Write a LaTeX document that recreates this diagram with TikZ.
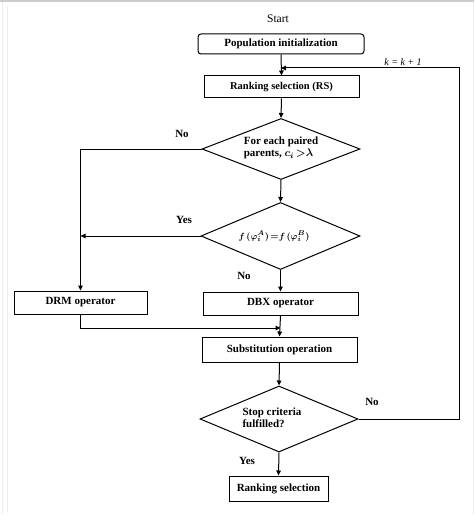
\documentclass[tikz,border=0pt]{standalone}
\usepackage{amsmath,bm}
\usepackage{fontspec}
\setmainfont{Liberation Serif}
\usetikzlibrary{shapes.geometric,arrows.meta}
\begin{document}
\begin{tikzpicture}[x=1pt,y=-1pt,
  every node/.style={font=\fontsize{11}{12.5}\selectfont\bfseries, inner sep=0pt},
  procbox/.style={draw, line width=1pt, rectangle},
  decbox/.style={draw, line width=1pt, diamond, aspect=2.5},
  lbl/.style={font=\fontsize{11}{12.5}\selectfont\bfseries},
  conn/.style={line width=1pt, -{Triangle[length=5pt,width=4.5pt]}}]
\useasboundingbox (0,0) rectangle (474,516);
\fill[gray!40] (0,0) rectangle (474,2);
\draw[gray!15, line width=0.8pt] (2,2) -- (2,514) (7,6) -- (7,512) (473,2) -- (473,514);
% nodes
\node[font=\fontsize{11.5}{13}\selectfont] (start) at (278,19) {Start};
\node[procbox, rounded corners=3pt, minimum width=166pt, minimum height=20pt] (pop) at (281,44) {Population initialization};
\node[procbox, minimum width=155pt, minimum height=22pt, font=\fontsize{10.5}{12}\selectfont\bfseries] (rank) at (281.5,87) {Ranking selection (RS)};
\node[decbox, minimum width=158pt, minimum height=61pt] (d1) at (281,149) {};
\node[align=left, font=\fontsize{11}{12.5}\selectfont\bfseries] (d1t) at (281,148) {For each paired\\parents, $\bm{c_i\,{>}\lambda}$};
\node[decbox, minimum width=159pt, minimum height=67pt] (d2) at (280.5,236) {};
\node[font=\fontsize{9.5}{11}\selectfont\bfseries] (d2t) at (274,236) {$\bm{f\,(\varphi_i^{A})\,{=}f\,(\varphi_i^{B})}$};
\node[procbox, minimum width=133pt, minimum height=23pt] (drm) at (80.5,302.5) {DRM operator};
\node[procbox, minimum width=155pt, minimum height=23pt] (dbx) at (280.5,303.5) {DBX operator};
\node[procbox, minimum width=155pt, minimum height=25pt] (sub) at (279.5,349.5) {Substitution operation};
\node[decbox, minimum width=158pt, minimum height=66pt] (d3) at (279,419) {};
\node[align=left] (d3t) at (272,418) {Stop criteria\\fulfilled?};
\node[procbox, minimum width=99pt, minimum height=25pt] (rs2) at (278.5,488.5) {Ranking selection};
% labels
\node[lbl] (l1) at (182,134) {No};
\node[lbl] (l2) at (184,220) {Yes};
\node[lbl] (l3) at (244,276) {No};
\node[lbl] (l4) at (372,402) {No};
\node[lbl] (l5) at (247,461) {Yes};
\node[font=\fontsize{10}{11}\selectfont\itshape] (kk) at (403,62) {k = k + 1};
% coordinates
\coordinate (loopin) at (281,68);
\coordinate (loopc1) at (459,419);
\coordinate (loopc2) at (459,68);
\coordinate (join) at (280.5,328);
% connectors
\draw[conn] (pop.south) -- (rank.north);
\draw[conn] (rank.south) -- (d1.north);
\draw[conn] (d1.west) -| (drm.north);
\draw[conn] (d1.south) -- (d2.north);
\draw[conn] (d2.west) -- (d2.west -| drm.north);
\draw[conn] (d2.south) -- (dbx.north);
\draw[conn] (dbx.south) -- (sub.north);
\draw[conn] (drm.south) |- (join);
\draw[conn] (sub.south) -- (d3.north);
\draw[conn] (d3.east) -- (loopc1) -- (loopc2) -- (loopin);
\draw[conn] (d3.south) -- (rs2.north);
\end{tikzpicture}
\end{document}
